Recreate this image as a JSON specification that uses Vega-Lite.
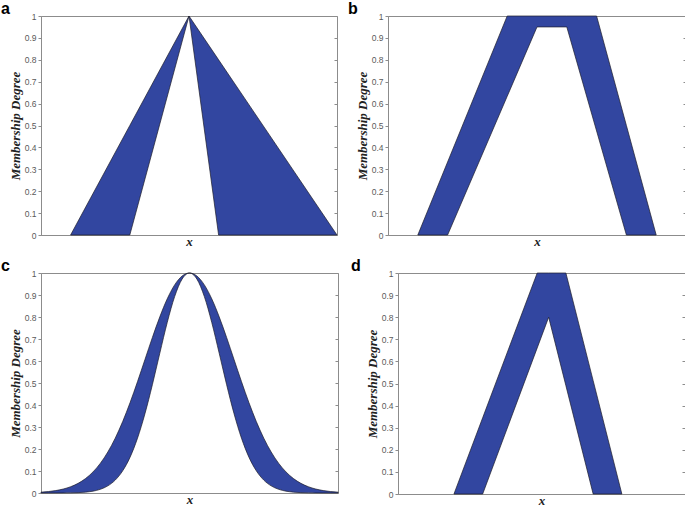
{
  "$schema": "https://vega.github.io/schema/vega-lite/v6.json",
  "padding": {"left": 0, "top": 0, "right": 0, "bottom": 0},
  "background": "white",
  "datasets": {
    "a": [
      {"x": 0.1, "upper": 0, "lower": 0},
      {"x": 0.3, "upper": 0.5, "lower": 0},
      {"x": 0.5, "upper": 1, "lower": 1},
      {"x": 0.6, "upper": 0.8, "lower": 0},
      {"x": 1.0, "upper": 0, "lower": 0}
    ],
    "b": [
      {"x": 0.1, "upper": 0, "lower": 0},
      {"x": 0.2, "upper": 0.3333, "lower": 0},
      {"x": 0.4, "upper": 1, "lower": 0.6333},
      {"x": 0.5, "upper": 1, "lower": 0.95},
      {"x": 0.6, "upper": 1, "lower": 0.95},
      {"x": 0.7, "upper": 1, "lower": 0.475},
      {"x": 0.8, "upper": 0.5, "lower": 0},
      {"x": 0.9, "upper": 0, "lower": 0}
    ],
    "c": [
      {"x": 0, "upper": 0.0039, "lower": 0},
      {"x": 0.025, "upper": 0.0066, "lower": 0},
      {"x": 0.05, "upper": 0.0111, "lower": 0.0001},
      {"x": 0.075, "upper": 0.0181, "lower": 0.0003},
      {"x": 0.1, "upper": 0.0286, "lower": 0.0007},
      {"x": 0.125, "upper": 0.0439, "lower": 0.0017},
      {"x": 0.15, "upper": 0.0657, "lower": 0.0039},
      {"x": 0.175, "upper": 0.0956, "lower": 0.0083},
      {"x": 0.2, "upper": 0.1353, "lower": 0.0169},
      {"x": 0.225, "upper": 0.1863, "lower": 0.0324},
      {"x": 0.25, "upper": 0.2494, "lower": 0.0587},
      {"x": 0.275, "upper": 0.3247, "lower": 0.1007},
      {"x": 0.3, "upper": 0.4111, "lower": 0.163},
      {"x": 0.325, "upper": 0.5063, "lower": 0.2494},
      {"x": 0.35, "upper": 0.6065, "lower": 0.3604},
      {"x": 0.375, "upper": 0.7067, "lower": 0.4923},
      {"x": 0.4, "upper": 0.8007, "lower": 0.6354},
      {"x": 0.425, "upper": 0.8825, "lower": 0.7748},
      {"x": 0.45, "upper": 0.946, "lower": 0.8928},
      {"x": 0.475, "upper": 0.9862, "lower": 0.9721},
      {"x": 0.5, "upper": 1, "lower": 1},
      {"x": 0.525, "upper": 0.9862, "lower": 0.9721},
      {"x": 0.55, "upper": 0.946, "lower": 0.8928},
      {"x": 0.575, "upper": 0.8825, "lower": 0.7748},
      {"x": 0.6, "upper": 0.8007, "lower": 0.6354},
      {"x": 0.625, "upper": 0.7067, "lower": 0.4923},
      {"x": 0.65, "upper": 0.6065, "lower": 0.3604},
      {"x": 0.675, "upper": 0.5063, "lower": 0.2494},
      {"x": 0.7, "upper": 0.4111, "lower": 0.163},
      {"x": 0.725, "upper": 0.3247, "lower": 0.1007},
      {"x": 0.75, "upper": 0.2494, "lower": 0.0587},
      {"x": 0.775, "upper": 0.1863, "lower": 0.0324},
      {"x": 0.8, "upper": 0.1353, "lower": 0.0169},
      {"x": 0.825, "upper": 0.0956, "lower": 0.0083},
      {"x": 0.85, "upper": 0.0657, "lower": 0.0039},
      {"x": 0.875, "upper": 0.0439, "lower": 0.0017},
      {"x": 0.9, "upper": 0.0286, "lower": 0.0007},
      {"x": 0.925, "upper": 0.0181, "lower": 0.0003},
      {"x": 0.95, "upper": 0.0111, "lower": 0.0001},
      {"x": 0.975, "upper": 0.0066, "lower": 0},
      {"x": 1.0, "upper": 0.0039, "lower": 0}
    ],
    "d": [
      {"x": 0.195, "upper": 0, "lower": 0},
      {"x": 0.295, "upper": 0.3448, "lower": 0},
      {"x": 0.485, "upper": 1, "lower": 0.6609},
      {"x": 0.525, "upper": 1, "lower": 0.8},
      {"x": 0.585, "upper": 1, "lower": 0.4903},
      {"x": 0.68, "upper": 0.5128, "lower": 0},
      {"x": 0.78, "upper": 0, "lower": 0}
    ]
  },
  "vconcat": [
    {
      "hconcat": [
        {
          "width": 296, "height": 219,
          "title": {"text": "a", "dx": -40},
          "data": {"name": "a"},
          "layer": [
            {
              "mark": {"type": "area", "color": "#3246a0", "stroke": "#1c1c2a", "strokeWidth": 0.7},
              "encoding": {
                "x": {"field": "x", "type": "quantitative", "scale": {"domain": [0, 1], "nice": false, "zero": false}, "axis": {"title": "x"}},
                "y": {"field": "upper", "type": "quantitative", "scale": {"domain": [0, 1], "nice": false}, "axis": {"title": "Membership Degree", "values": [0, 0.1, 0.2, 0.3, 0.4, 0.5, 0.6, 0.7, 0.8, 0.9, 1], "format": "~g"}},
                "y2": {"field": "lower"}
              }
            },
            {
              "mark": {"type": "line", "opacity": 0},
              "encoding": {
                "x": {"field": "x", "type": "quantitative", "axis": {"title": "x"}},
                "y": {"field": "upper", "type": "quantitative", "axis": {"orient": "right", "title": null, "values": [0, 0.1, 0.2, 0.3, 0.4, 0.5, 0.6, 0.7, 0.8, 0.9, 1]}}
              }
            }
          ],
          "resolve": {"axis": {"y": "independent"}}
        },
        {
          "width": 298, "height": 219,
          "title": {"text": "b", "dx": -40},
          "data": {"name": "b"},
          "layer": [
            {
              "mark": {"type": "area", "color": "#3246a0", "stroke": "#1c1c2a", "strokeWidth": 0.7},
              "encoding": {
                "x": {"field": "x", "type": "quantitative", "scale": {"domain": [0, 1], "nice": false, "zero": false}, "axis": {"title": "x"}},
                "y": {"field": "upper", "type": "quantitative", "scale": {"domain": [0, 1], "nice": false}, "axis": {"title": "Membership Degree", "values": [0, 0.1, 0.2, 0.3, 0.4, 0.5, 0.6, 0.7, 0.8, 0.9, 1], "format": "~g"}},
                "y2": {"field": "lower"}
              }
            },
            {
              "mark": {"type": "line", "opacity": 0},
              "encoding": {
                "x": {"field": "x", "type": "quantitative", "axis": {"title": "x"}},
                "y": {"field": "upper", "type": "quantitative", "axis": {"orient": "right", "title": null, "values": [0, 0.1, 0.2, 0.3, 0.4, 0.5, 0.6, 0.7, 0.8, 0.9, 1]}}
              }
            }
          ],
          "resolve": {"axis": {"y": "independent"}}
        }
      ],
      "spacing": 8
    },
    {
      "hconcat": [
        {
          "width": 297, "height": 220,
          "title": {"text": "c", "dx": -40},
          "data": {"name": "c"},
          "layer": [
            {
              "mark": {"type": "area", "color": "#3246a0", "stroke": "#1c1c2a", "strokeWidth": 0.7, "interpolate": "monotone"},
              "encoding": {
                "x": {"field": "x", "type": "quantitative", "scale": {"domain": [0, 1], "nice": false, "zero": false}, "axis": {"title": "x"}},
                "y": {"field": "upper", "type": "quantitative", "scale": {"domain": [0, 1], "nice": false}, "axis": {"title": "Membership Degree", "values": [0, 0.1, 0.2, 0.3, 0.4, 0.5, 0.6, 0.7, 0.8, 0.9, 1], "format": "~g"}},
                "y2": {"field": "lower"}
              }
            },
            {
              "mark": {"type": "line", "opacity": 0},
              "encoding": {
                "x": {"field": "x", "type": "quantitative", "axis": {"title": "x"}},
                "y": {"field": "upper", "type": "quantitative", "axis": {"orient": "right", "title": null, "values": [0, 0.1, 0.2, 0.3, 0.4, 0.5, 0.6, 0.7, 0.8, 0.9, 1]}}
              }
            }
          ],
          "resolve": {"axis": {"y": "independent"}}
        },
        {
          "width": 287, "height": 221,
          "title": {"text": "d", "dx": -47},
          "data": {"name": "d"},
          "layer": [
            {
              "mark": {"type": "area", "color": "#3246a0", "stroke": "#1c1c2a", "strokeWidth": 0.7},
              "encoding": {
                "x": {"field": "x", "type": "quantitative", "scale": {"domain": [0, 1], "nice": false, "zero": false}, "axis": {"title": "x"}},
                "y": {"field": "upper", "type": "quantitative", "scale": {"domain": [0, 1], "nice": false}, "axis": {"title": "Membership Degree", "values": [0, 0.1, 0.2, 0.3, 0.4, 0.5, 0.6, 0.7, 0.8, 0.9, 1], "format": "~g"}},
                "y2": {"field": "lower"}
              }
            },
            {
              "mark": {"type": "line", "opacity": 0},
              "encoding": {
                "x": {"field": "x", "type": "quantitative", "axis": {"title": "x"}},
                "y": {"field": "upper", "type": "quantitative", "axis": {"orient": "right", "title": null, "values": [0, 0.1, 0.2, 0.3, 0.4, 0.5, 0.6, 0.7, 0.8, 0.9, 1]}}
              }
            }
          ],
          "resolve": {"axis": {"y": "independent"}}
        }
      ],
      "spacing": 10
    }
  ],
  "spacing": 8,
  "config": {
    "view": {"stroke": "#8c8c8c", "strokeWidth": 1},
    "axis": {"domainColor": "#8c8c8c", "tickColor": "#8c8c8c", "grid": false, "labelFont": "Liberation Sans", "labelFontSize": 8.5, "labelColor": "#5a5a5a", "titleFont": "Liberation Serif", "titleFontStyle": "italic", "titleFontWeight": "bold", "titleColor": "#222222"},
    "axisLeft": {"tickSize": 3, "labelPadding": 2, "titleFontSize": 13, "titlePadding": 2},
    "axisRight": {"tickSize": -3, "labels": false, "domain": false},
    "axisBottom": {"labels": false, "ticks": false, "titleFontSize": 13, "titlePadding": 0},
    "title": {"font": "Liberation Sans", "fontSize": 16, "fontWeight": "bold", "anchor": "start", "color": "#000000", "frame": "group", "offset": 0, "dy": 9, "baseline": "alphabetic"}
  }
}
